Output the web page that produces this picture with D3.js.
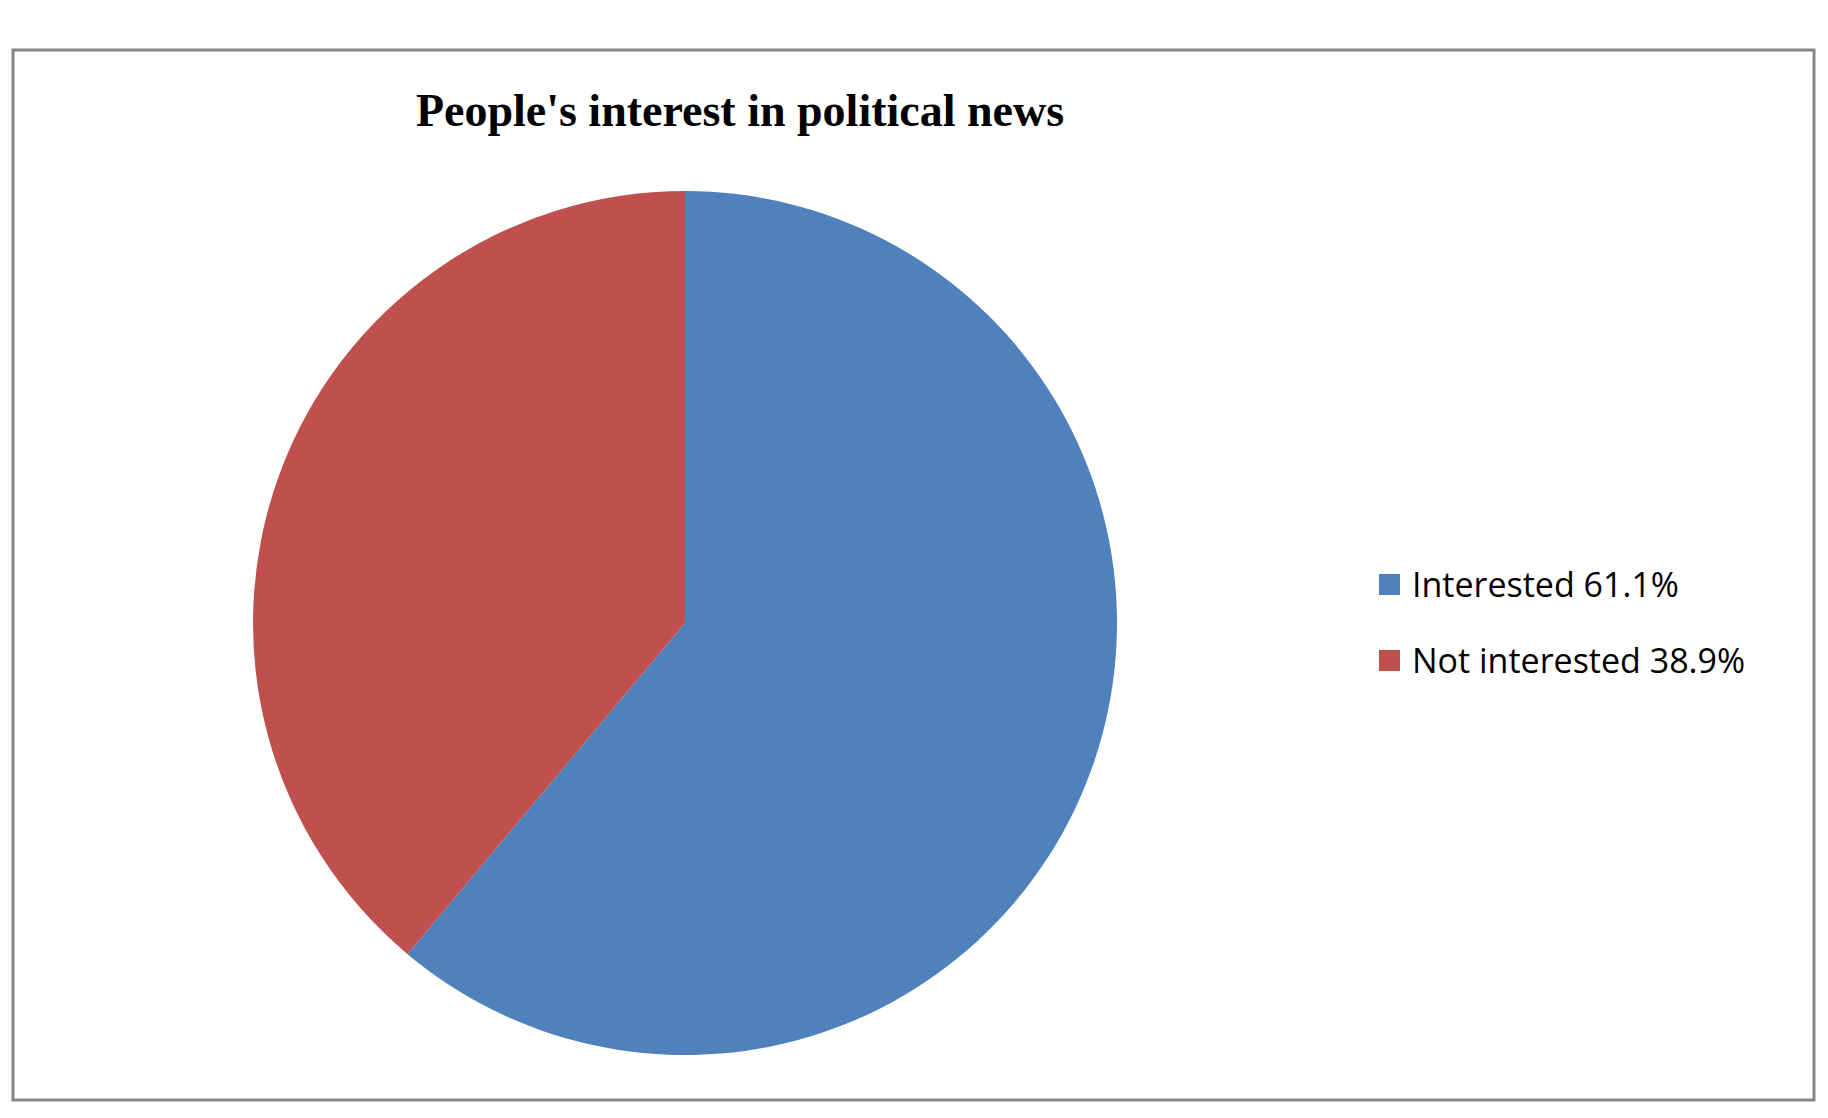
<!DOCTYPE html>
<html>
<head>
<meta charset="utf-8">
<script src="https://cdn.jsdelivr.net/npm/d3@7"></script>
<style>
  body { margin: 0; background: #fff; }
</style>
</head>
<body>
<div id="chart"></div>
<script>
const width = 1828;
const height = 1118;

const categories = ["Interested", "Not interested"];
const values = [61.1, 38.9];
const colors = ["#4F81BD", "#C0504D"];

const svg = d3.select("#chart")
  .append("svg")
  .attr("width", width)
  .attr("height", height);

svg.append("rect")
  .attr("x", 13).attr("y", 50)
  .attr("width", 1801).attr("height", 1050)
  .attr("fill", "#fff")
  .attr("stroke", "#868686")
  .attr("stroke-width", 3);

svg.append("text")
  .attr("x", 740)
  .attr("y", 126)
  .attr("text-anchor", "middle")
  .style("font-family", "Liberation Serif, Times New Roman, serif")
  .style("font-weight", "bold")
  .style("font-size", "46px")
  .text("People's interest in political news");

const pie = d3.pie().sort(null)(values);
const arc = d3.arc().innerRadius(0).outerRadius(432);

svg.append("g")
  .attr("transform", "translate(685, 623)")
  .selectAll("path")
  .data(pie)
  .enter()
  .append("path")
  .attr("d", arc)
  .attr("fill", (d, i) => colors[i]);

const legend = svg.append("g")
  .selectAll("g")
  .data(categories)
  .enter()
  .append("g")
  .attr("transform", (d, i) => `translate(1379, ${574 + i * 76})`);

legend.append("rect")
  .attr("width", 21).attr("height", 21)
  .attr("fill", (d, i) => colors[i]);

legend.append("text")
  .attr("x", 33)
  .attr("y", 23)
  .style("font-family", "Open Sans, sans-serif")
  .style("font-size", "34px")
  .text((d, i) => `${d} ${values[i]}%`);
</script>
</body>
</html>
